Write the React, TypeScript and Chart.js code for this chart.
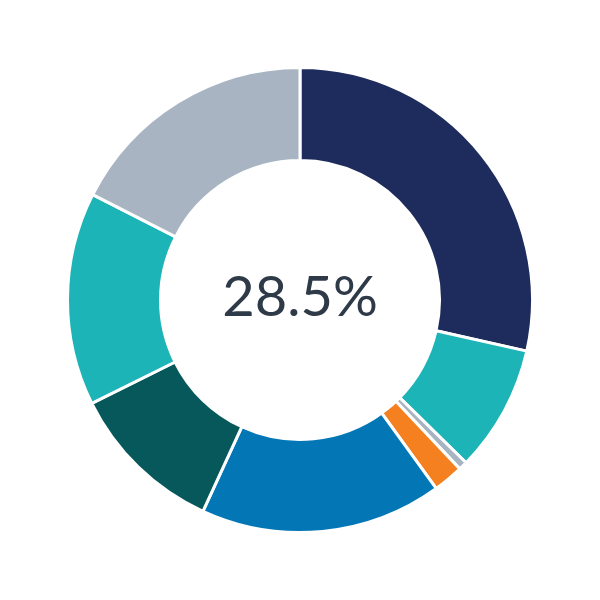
import React, { useEffect, useRef } from "react";
import { Chart, registerables } from "chart.js";

Chart.register(...registerables);

const categories = ["A", "B", "C", "D", "E", "F", "G", "H"];
const values = [28.5, 8.8, 0.6, 2.1, 16.8, 10.8, 14.8, 17.5];
const colors = ["#1d2c5c", "#1cb4b7", "#a9b4c3", "#f5801f", "#0377b6", "#06585a", "#1cb4b7", "#a9b4c3"];
const centerLabel = "28.5%";

export default function App() {
  const ref = useRef<HTMLCanvasElement | null>(null);
  useEffect(() => {
    if (!ref.current) return;
    const chart = new Chart(ref.current, {
      type: "doughnut",
      data: {
        labels: categories,
        datasets: [
          {
            data: values,
            backgroundColor: colors,
            borderColor: "#ffffff",
            borderWidth: 3,
          },
        ],
      },
      options: {
        animation: false,
        responsive: false,
        maintainAspectRatio: false,
        cutout: "60%",
        layout: { padding: 66 },
        plugins: { legend: { display: false }, tooltip: { enabled: false } },
      },
    });
    return () => chart.destroy();
  }, []);
  return (
    <div style={{ position: "fixed", left: 0, top: 0, width: 600, height: 600, background: "#fff" }}>
      <canvas ref={ref} width={600} height={600} style={{ width: 600, height: 600, display: "block" }} />
      <div
        style={{
          position: "absolute",
          left: 0,
          top: -6,
          width: 600,
          height: 600,
          display: "flex",
          alignItems: "center",
          justifyContent: "center",
          fontFamily: "Lato, sans-serif",
          fontSize: 56,
          color: "#2f3a48",
          pointerEvents: "none",
        }}
      >
        {centerLabel}
      </div>
    </div>
  );
}
